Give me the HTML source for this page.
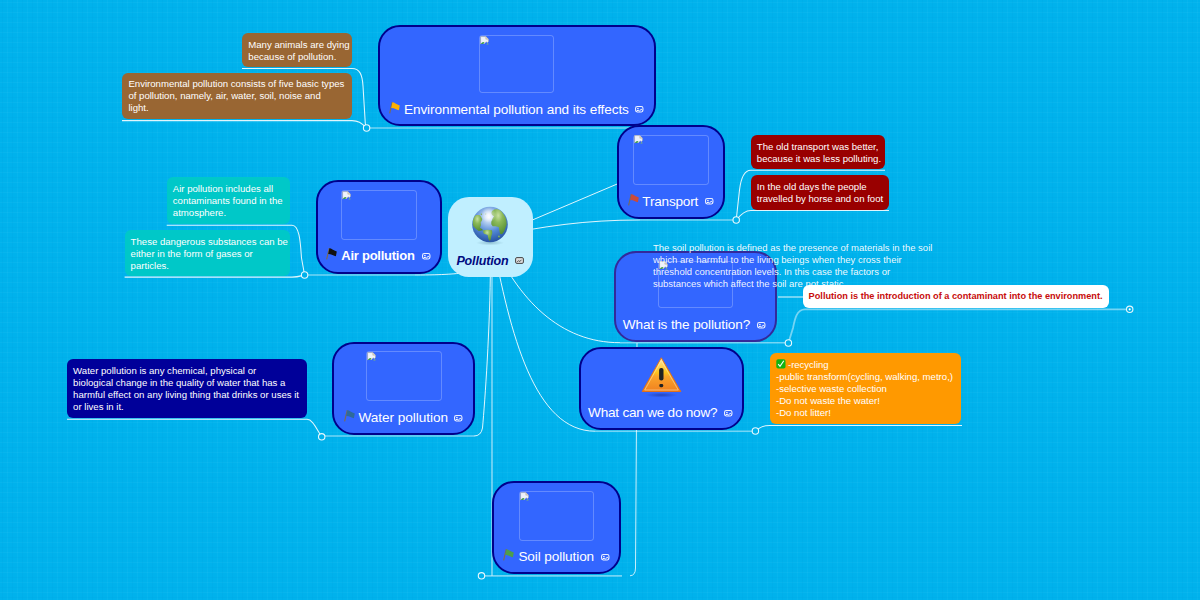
<!DOCTYPE html>
<html><head><meta charset="utf-8"><title>Pollution</title>
<style>
html,body{margin:0;padding:0;width:1200px;height:600px;overflow:hidden}
body{position:relative;font-family:"Liberation Sans", sans-serif;background-color:#00b2ec;
background-image:linear-gradient(90deg,rgba(140,235,255,.05) 1px,transparent 1px),linear-gradient(0deg,rgba(140,235,255,.05) 1px,transparent 1px),linear-gradient(90deg,rgba(0,80,160,.035) 1px,transparent 1px),linear-gradient(0deg,rgba(0,80,160,.035) 1px,transparent 1px);
background-size:10px 10px,10px 10px,10px 10px,10px 10px;background-position:7px 3px,7px 3px,2px 8px,2px 8px}
.t{position:absolute;white-space:pre;}
.b,.n,.ph,.ic,.bi,.lines{position:absolute;box-sizing:border-box}
.lines{left:0;top:0}
.ph{border:1px solid rgba(255,255,255,.24);border-radius:3px}
</style></head><body>
<svg class="lines" width="1200" height="600" viewBox="0 0 1200 600"><path d="M490 238 L636 176 Q662 150 640 128 H628" fill="none" stroke="rgba(255,255,255,0.88)" stroke-width="1"/><path d="M366.6 128 H628" fill="none" stroke="rgba(255,255,255,0.45)" stroke-width="1.6"/><path d="M490 237 C545 226 585 220 640 220" fill="none" stroke="rgba(255,255,255,0.88)" stroke-width="1"/><path d="M640 220 H736.2" fill="none" stroke="rgba(255,255,255,0.45)" stroke-width="1.6"/><path d="M470 272.3 C455 273.8 445 275 415 275" fill="none" stroke="rgba(255,255,255,0.88)" stroke-width="1"/><path d="M415 275 H304.6" fill="none" stroke="rgba(255,255,255,0.45)" stroke-width="1.6"/><path d="M490.5 262 C490 330 485 400 482.5 428 Q481 436 474 436" fill="none" stroke="rgba(255,255,255,0.88)" stroke-width="1"/><path d="M474 436 H321.7" fill="none" stroke="rgba(255,255,255,0.45)" stroke-width="1.6"/><path d="M492 262 V575.8" fill="none" stroke="rgba(255,255,255,0.45)" stroke-width="1.8"/><path d="M481.5 575.8 H622" fill="none" stroke="rgba(255,255,255,0.45)" stroke-width="1.8"/><path d="M637 343 L635.5 568 Q635.5 575.5 630 575.8" fill="none" stroke="rgba(255,255,255,0.88)" stroke-width="0.9"/><path d="M492 237 C510 335 535 431.2 595 431.2" fill="none" stroke="rgba(255,255,255,0.88)" stroke-width="1"/><path d="M595 431.2 H755.4" fill="none" stroke="rgba(255,255,255,0.45)" stroke-width="1.6"/><path d="M490 237 C518 300 560 342.7 620 342.7" fill="none" stroke="rgba(255,255,255,0.88)" stroke-width="1"/><path d="M620 342.7 H788.4" fill="none" stroke="rgba(255,255,255,0.45)" stroke-width="1.6"/><path d="M242 68.5 H352 C360 68.5 362.3 75 363 86 L365.3 123.5 Q365.8 126.5 366.6 128" fill="none" stroke="rgba(255,255,255,0.88)" stroke-width="1.05"/><path d="M122 120.6 H352 C358 120.6 361 122.5 366.6 128" fill="none" stroke="rgba(255,255,255,0.88)" stroke-width="1.05"/><path d="M166.7 225.2 H292 C300 225.2 300.5 245 301.5 258 L304.6 275" fill="none" stroke="rgba(255,255,255,0.88)" stroke-width="1.05"/><path d="M124.6 277.1 H292 C298 277.1 300.5 276 304.6 275" fill="none" stroke="rgba(255,255,255,0.88)" stroke-width="1.05"/><path d="M885 170.3 H750.8 C744 170.3 741 178 739.5 190 L736.2 220" fill="none" stroke="rgba(255,255,255,0.88)" stroke-width="1.05"/><path d="M889 210.5 H750.8 C745 210.5 741 214 736.2 220" fill="none" stroke="rgba(255,255,255,0.88)" stroke-width="1.05"/><path d="M67 419.3 H307 C312 419.3 315 426 321.7 436.8" fill="none" stroke="rgba(255,255,255,0.88)" stroke-width="1.05"/><path d="M962 425.4 H770 C763 425.4 760 427.5 755.4 431" fill="none" stroke="rgba(255,255,255,0.88)" stroke-width="1.05"/><path d="M1126 309.3 H805 C797 309.3 795 318 793 328 L788.4 343" fill="none" stroke="rgba(255,255,255,0.45)" stroke-width="1.8"/><path d="M778 297 H803" fill="none" stroke="rgba(255,255,255,0.45)" stroke-width="2"/><circle cx="366.6" cy="128" r="3.2" fill="#00b2ec" stroke="#fff" stroke-width="1.1" stroke-opacity=".9"/><circle cx="304.6" cy="275" r="3.2" fill="#00b2ec" stroke="#fff" stroke-width="1.1" stroke-opacity=".9"/><circle cx="736.2" cy="220" r="3.2" fill="#00b2ec" stroke="#fff" stroke-width="1.1" stroke-opacity=".9"/><circle cx="788.4" cy="343" r="3.2" fill="#00b2ec" stroke="#fff" stroke-width="1.1" stroke-opacity=".9"/><circle cx="755.4" cy="431" r="3.2" fill="#00b2ec" stroke="#fff" stroke-width="1.1" stroke-opacity=".9"/><circle cx="321.7" cy="436.8" r="3.2" fill="#00b2ec" stroke="#fff" stroke-width="1.1" stroke-opacity=".9"/><circle cx="481.5" cy="575.8" r="3.2" fill="#00b2ec" stroke="#fff" stroke-width="1.1" stroke-opacity=".9"/><circle cx="1129.7" cy="309.3" r="3.2" fill="#00b2ec" stroke="#fff" stroke-width="1.1" stroke-opacity=".9"/><circle cx="1129.7" cy="309.3" r="1.1" fill="#fff"/></svg>
<div class="n" style="left:377.5px;top:25.2px;width:278.70000000000005px;height:100.89999999999999px;background:#3366ff;border:2px solid #00008b;border-radius:22px"></div>
<div class="ph" style="left:479.3px;top:35.3px;width:74.49999999999994px;height:57.400000000000006px"></div>
<svg class="bi" style="left:480.1px;top:35.9px" width="9" height="9" viewBox="0 0 9 9"><path d="M.6 .6h5.2l2.6 2.6v2.4l-1.1 1.1-1-1-2.2 2.2-1.3-1.3L.6 7.9z" fill="#eef2fb" stroke="#b8b0a0" stroke-width=".55"/><path d="M5.8 .6v2.6h2.6" fill="#d8d0c0" stroke="#b8b0a0" stroke-width=".5"/><path d="M.8 7.8Q2.6 5.6 4.6 6.1L3 7.9z" fill="#3aa63a"/><path d="M6.2 8.4l1.6-1.5.6.6v.9z" fill="#7ab87a"/></svg>
<svg class="ic" style="left:388px;top:100.5px" width="13" height="13" viewBox="0 0 13 13"><path d="M4.3 1.1L1.6 12.3" stroke="#7a6a5a" stroke-width="1.2" fill="none"/><path d="M4.4 1.2C6.2 1.1 8.2 3.4 11.8 4.6L10.9 9.2C8.6 9.2 6.6 7 3.2 7.1z" fill="#ffb000"/></svg>
<div class="t" style="left:404.00px;top:100.89px;font-size:13.6px;line-height:17.0px;color:#fff;font-weight:normal;font-style:normal;letter-spacing:-0.1px;">Environmental pollution and its effects</div>
<svg class="ic" style="left:635.2px;top:105.8px" width="9" height="7" viewBox="0 0 9 7"><rect x=".55" y=".55" width="7.4" height="5.4" rx="1.6" fill="none" stroke="#fff" stroke-width="1.05" opacity=".9"/><circle cx="2.9" cy="2.5" r=".8" fill="#fff"/><path d="M1.2 5.3L3.1 4.1 4.4 5 6.2 3.3 7.6 4.4" fill="none" stroke="#fff" stroke-width="1"/></svg>
<div class="n" style="left:617px;top:125.2px;width:108px;height:93.8px;background:#3366ff;border:2px solid #00008b;border-radius:22px"></div>
<div class="ph" style="left:633px;top:134.6px;width:76px;height:50.400000000000006px"></div>
<svg class="bi" style="left:633.8px;top:135.2px" width="9" height="9" viewBox="0 0 9 9"><path d="M.6 .6h5.2l2.6 2.6v2.4l-1.1 1.1-1-1-2.2 2.2-1.3-1.3L.6 7.9z" fill="#eef2fb" stroke="#b8b0a0" stroke-width=".55"/><path d="M5.8 .6v2.6h2.6" fill="#d8d0c0" stroke="#b8b0a0" stroke-width=".5"/><path d="M.8 7.8Q2.6 5.6 4.6 6.1L3 7.9z" fill="#3aa63a"/><path d="M6.2 8.4l1.6-1.5.6.6v.9z" fill="#7ab87a"/></svg>
<svg class="ic" style="left:626.6px;top:192.8px" width="13" height="13" viewBox="0 0 13 13"><path d="M4.3 1.1L1.6 12.3" stroke="#7a6a5a" stroke-width="1.2" fill="none"/><path d="M4.4 1.2C6.2 1.1 8.2 3.4 11.8 4.6L10.9 9.2C8.6 9.2 6.6 7 3.2 7.1z" fill="#cc4a3a"/></svg>
<div class="t" style="left:642.30px;top:192.89px;font-size:13.6px;line-height:17.0px;color:#fff;font-weight:normal;font-style:normal;letter-spacing:-0.21px;">Transport</div>
<svg class="ic" style="left:705px;top:198.2px" width="9" height="7" viewBox="0 0 9 7"><rect x=".55" y=".55" width="7.4" height="5.4" rx="1.6" fill="none" stroke="#fff" stroke-width="1.05" opacity=".9"/><circle cx="2.9" cy="2.5" r=".8" fill="#fff"/><path d="M1.2 5.3L3.1 4.1 4.4 5 6.2 3.3 7.6 4.4" fill="none" stroke="#fff" stroke-width="1"/></svg>
<div class="n" style="left:315.6px;top:179.8px;width:126.59999999999997px;height:94.0px;background:#3366ff;border:2px solid #00008b;border-radius:22px"></div>
<div class="ph" style="left:341px;top:190px;width:76px;height:49.599999999999994px"></div>
<svg class="bi" style="left:341.8px;top:190.6px" width="9" height="9" viewBox="0 0 9 9"><path d="M.6 .6h5.2l2.6 2.6v2.4l-1.1 1.1-1-1-2.2 2.2-1.3-1.3L.6 7.9z" fill="#eef2fb" stroke="#b8b0a0" stroke-width=".55"/><path d="M5.8 .6v2.6h2.6" fill="#d8d0c0" stroke="#b8b0a0" stroke-width=".5"/><path d="M.8 7.8Q2.6 5.6 4.6 6.1L3 7.9z" fill="#3aa63a"/><path d="M6.2 8.4l1.6-1.5.6.6v.9z" fill="#7ab87a"/></svg>
<svg class="ic" style="left:325.3px;top:247.2px" width="13" height="13" viewBox="0 0 13 13"><path d="M4.3 1.1L1.6 12.3" stroke="#7a6a5a" stroke-width="1.2" fill="none"/><path d="M4.4 1.2C6.2 1.1 8.2 3.4 11.8 4.6L10.9 9.2C8.6 9.2 6.6 7 3.2 7.1z" fill="#111"/></svg>
<div class="t" style="left:341.30px;top:247.67px;font-size:13px;line-height:16.25px;color:#fff;font-weight:bold;font-style:normal;letter-spacing:-0.25px;">Air pollution</div>
<svg class="ic" style="left:422px;top:253px" width="9" height="7" viewBox="0 0 9 7"><rect x=".55" y=".55" width="7.4" height="5.4" rx="1.6" fill="none" stroke="#fff" stroke-width="1.05" opacity=".9"/><circle cx="2.9" cy="2.5" r=".8" fill="#fff"/><path d="M1.2 5.3L3.1 4.1 4.4 5 6.2 3.3 7.6 4.4" fill="none" stroke="#fff" stroke-width="1"/></svg>
<div class="n" style="left:332.4px;top:341.6px;width:142.60000000000002px;height:93.39999999999998px;background:#3366ff;border:2px solid #00008b;border-radius:22px"></div>
<div class="ph" style="left:366px;top:351px;width:76px;height:50.39999999999998px"></div>
<svg class="bi" style="left:366.8px;top:351.6px" width="9" height="9" viewBox="0 0 9 9"><path d="M.6 .6h5.2l2.6 2.6v2.4l-1.1 1.1-1-1-2.2 2.2-1.3-1.3L.6 7.9z" fill="#eef2fb" stroke="#b8b0a0" stroke-width=".55"/><path d="M5.8 .6v2.6h2.6" fill="#d8d0c0" stroke="#b8b0a0" stroke-width=".5"/><path d="M.8 7.8Q2.6 5.6 4.6 6.1L3 7.9z" fill="#3aa63a"/><path d="M6.2 8.4l1.6-1.5.6.6v.9z" fill="#7ab87a"/></svg>
<svg class="ic" style="left:342.6px;top:409.2px" width="13" height="13" viewBox="0 0 13 13"><path d="M4.3 1.1L1.6 12.3" stroke="#7a6a5a" stroke-width="1.2" fill="none"/><path d="M4.4 1.2C6.2 1.1 8.2 3.4 11.8 4.6L10.9 9.2C8.6 9.2 6.6 7 3.2 7.1z" fill="#2e6a9a"/></svg>
<div class="t" style="left:358.40px;top:409.19px;font-size:13.6px;line-height:17.0px;color:#fff;font-weight:normal;font-style:normal;letter-spacing:-0.03px;">Water pollution</div>
<svg class="ic" style="left:454.2px;top:415px" width="9" height="7" viewBox="0 0 9 7"><rect x=".55" y=".55" width="7.4" height="5.4" rx="1.6" fill="none" stroke="#fff" stroke-width="1.05" opacity=".9"/><circle cx="2.9" cy="2.5" r=".8" fill="#fff"/><path d="M1.2 5.3L3.1 4.1 4.4 5 6.2 3.3 7.6 4.4" fill="none" stroke="#fff" stroke-width="1"/></svg>
<div class="n" style="left:492px;top:481px;width:129.39999999999998px;height:93.39999999999998px;background:#3366ff;border:2px solid #00008b;border-radius:22px"></div>
<div class="ph" style="left:519px;top:491px;width:75px;height:50px"></div>
<svg class="bi" style="left:519.8px;top:491.6px" width="9" height="9" viewBox="0 0 9 9"><path d="M.6 .6h5.2l2.6 2.6v2.4l-1.1 1.1-1-1-2.2 2.2-1.3-1.3L.6 7.9z" fill="#eef2fb" stroke="#b8b0a0" stroke-width=".55"/><path d="M5.8 .6v2.6h2.6" fill="#d8d0c0" stroke="#b8b0a0" stroke-width=".5"/><path d="M.8 7.8Q2.6 5.6 4.6 6.1L3 7.9z" fill="#3aa63a"/><path d="M6.2 8.4l1.6-1.5.6.6v.9z" fill="#7ab87a"/></svg>
<svg class="ic" style="left:502.4px;top:548.2px" width="13" height="13" viewBox="0 0 13 13"><path d="M4.3 1.1L1.6 12.3" stroke="#7a6a5a" stroke-width="1.2" fill="none"/><path d="M4.4 1.2C6.2 1.1 8.2 3.4 11.8 4.6L10.9 9.2C8.6 9.2 6.6 7 3.2 7.1z" fill="#4e9e4a"/></svg>
<div class="t" style="left:518.40px;top:547.69px;font-size:13.6px;line-height:17.0px;color:#fff;font-weight:normal;font-style:normal;letter-spacing:-0.1px;">Soil pollution</div>
<svg class="ic" style="left:600.8px;top:554px" width="9" height="7" viewBox="0 0 9 7"><rect x=".55" y=".55" width="7.4" height="5.4" rx="1.6" fill="none" stroke="#fff" stroke-width="1.05" opacity=".9"/><circle cx="2.9" cy="2.5" r=".8" fill="#fff"/><path d="M1.2 5.3L3.1 4.1 4.4 5 6.2 3.3 7.6 4.4" fill="none" stroke="#fff" stroke-width="1"/></svg>
<div class="n" style="left:613.7px;top:251px;width:163.79999999999995px;height:90.80000000000001px;background:#3366ff;border:2px solid #33299a;border-radius:22px"></div>
<div class="ph" style="left:658px;top:260.7px;width:75px;height:47.30000000000001px"></div>
<svg class="bi" style="left:658.8px;top:261.3px" width="9" height="9" viewBox="0 0 9 9"><path d="M.6 .6h5.2l2.6 2.6v2.4l-1.1 1.1-1-1-2.2 2.2-1.3-1.3L.6 7.9z" fill="#eef2fb" stroke="#b8b0a0" stroke-width=".55"/><path d="M5.8 .6v2.6h2.6" fill="#d8d0c0" stroke="#b8b0a0" stroke-width=".5"/><path d="M.8 7.8Q2.6 5.6 4.6 6.1L3 7.9z" fill="#3aa63a"/><path d="M6.2 8.4l1.6-1.5.6.6v.9z" fill="#7ab87a"/></svg>
<div class="t" style="left:622.80px;top:315.89px;font-size:13.6px;line-height:17.0px;color:#fff;font-weight:normal;font-style:normal;letter-spacing:-0.12px;">What is the pollution?</div>
<svg class="ic" style="left:756.8px;top:321.5px" width="9" height="7" viewBox="0 0 9 7"><rect x=".55" y=".55" width="7.4" height="5.4" rx="1.6" fill="none" stroke="#fff" stroke-width="1.05" opacity=".9"/><circle cx="2.9" cy="2.5" r=".8" fill="#fff"/><path d="M1.2 5.3L3.1 4.1 4.4 5 6.2 3.3 7.6 4.4" fill="none" stroke="#fff" stroke-width="1"/></svg>
<div class="n" style="left:578.6px;top:347.2px;width:165.39999999999998px;height:83.0px;background:#3366ff;border:2px solid #00008b;border-radius:22px"></div>
<div class="t" style="left:588.10px;top:403.99px;font-size:13.6px;line-height:17.0px;color:#fff;font-weight:normal;font-style:normal;letter-spacing:-0.24px;">What can we do now?</div>
<svg class="ic" style="left:724.2px;top:409.6px" width="9" height="7" viewBox="0 0 9 7"><rect x=".55" y=".55" width="7.4" height="5.4" rx="1.6" fill="none" stroke="#fff" stroke-width="1.05" opacity=".9"/><circle cx="2.9" cy="2.5" r=".8" fill="#fff"/><path d="M1.2 5.3L3.1 4.1 4.4 5 6.2 3.3 7.6 4.4" fill="none" stroke="#fff" stroke-width="1"/></svg>
<svg class="ic" style="left:640px;top:355.5px" width="44" height="42" viewBox="0 0 44 42"><defs><linearGradient id="wg" x1="0" y1="0" x2="0" y2="1"><stop offset="0" stop-color="#ffe9a0"/><stop offset=".45" stop-color="#ffc21a"/><stop offset=".55" stop-color="#fba52a"/><stop offset="1" stop-color="#f08020"/></linearGradient><radialGradient id="ws" cx=".5" cy=".5" r=".5"><stop offset="0" stop-color="#1a2a88" stop-opacity=".55"/><stop offset="1" stop-color="#1a2a88" stop-opacity="0"/></radialGradient></defs><ellipse cx="21.5" cy="39" rx="16" ry="2.5" fill="url(#ws)"/><path d="M21.3 1.8L40.8 35.5H2.2z" fill="url(#wg)" stroke="#e0701a" stroke-width="1" stroke-linejoin="round"/><path d="M21.3 4.5L38.3 34H4.7z" fill="none" stroke="#ffeec0" stroke-width=".7" opacity=".7"/><rect x="19.1" y="12" width="4.4" height="12.5" rx="2" fill="#222"/><rect x="19.3" y="28" width="4" height="3.2" rx="1.4" fill="#222"/></svg>
<div class="n" style="left:447.8px;top:197px;width:85.7px;height:79.8px;background:#c0efff;border-radius:21px"></div>
<svg class="ic" style="left:469px;top:204px" width="42" height="42" viewBox="0 0 42 42"><defs><radialGradient id="gb" cx=".47" cy=".3" r=".75"><stop offset="0" stop-color="#f4f8ff"/><stop offset=".22" stop-color="#b0ccef"/><stop offset=".55" stop-color="#5288d6"/><stop offset=".9" stop-color="#2a56a6"/><stop offset="1" stop-color="#3a68b8"/></radialGradient><radialGradient id="gl" cx=".45" cy=".25" r=".8"><stop offset="0" stop-color="#c8e0a0"/><stop offset=".35" stop-color="#8cba5a"/><stop offset="1" stop-color="#4f8a2e"/></radialGradient><radialGradient id="gsh" cx=".5" cy=".5" r=".5"><stop offset="0" stop-color="#4a7a90" stop-opacity=".4"/><stop offset="1" stop-color="#4a7a90" stop-opacity="0"/></radialGradient><radialGradient id="hl"><stop offset="0" stop-color="#fff" stop-opacity=".8"/><stop offset="1" stop-color="#fff" stop-opacity="0"/></radialGradient><clipPath id="gc"><circle cx="21" cy="20.5" r="17.6"/></clipPath></defs><ellipse cx="21" cy="38.8" rx="14" ry="2.6" fill="url(#gsh)"/><circle cx="21" cy="20.5" r="17.8" fill="url(#gb)"/><g clip-path="url(#gc)" fill="url(#gl)"><path d="M3.7 16.3L5 13 7 11 10.3 11 11.7 12.3 13.3 15 12.7 17 11.7 18.3 12 21 11 23.7 13 25 14 26.3 9.7 27 7 25 4.3 22.3 3.7 19.7z"/><path d="M14.3 26.3L18.3 25.7 23 26.3 23.3 29 22.3 32.3 21.7 35.7 20.3 37 19.3 34.3 18.7 31 15 29.7 14 27.7z"/><path d="M23 7L25.7 5.3 29 5.3 32.3 7 34.3 9.7 36.3 13 37.3 16.3 37.7 20.3 36.3 24.3 35 27.7 33 30.3 31 29.7 30.3 26.3 29.7 23 26.3 22.3 23.7 22.3 22.3 20.3 22.3 17.7 23.7 14.3 25 12.3 23 11 22.3 9z"/><path d="M29 31.7L30.5 31.5 31 33.5 29.5 33.7z"/><path d="M11.8 9.8L13 9.6 13 10.8 12 11z"/><path d="M15.8 9.8L17.2 9.5 17 10.8z"/></g><circle cx="19.7" cy="11" r="7.5" fill="url(#hl)"/></svg>
<div class="t" style="left:456.40px;top:254.06px;font-size:12.5px;line-height:15.625px;color:#000a80;font-weight:bold;font-style:italic;letter-spacing:-0.15px;">Pollution</div>
<svg class="ic" style="left:515px;top:257px" width="9" height="7" viewBox="0 0 9 7"><rect x=".6" y=".6" width="7.8" height="5.8" rx="1.3" fill="#ddd" stroke="#444" stroke-width="1"/><path d="M2 5.2l1.6-1.6 1.2 1 1.6-1.8" fill="none" stroke="#444" stroke-width=".9"/></svg>
<div class="b" style="left:242.3px;top:32.8px;width:109.69999999999999px;height:34.5px;background:#996633;border-radius:6px"></div>
<div class="t" style="left:248.30px;top:38.60px;font-size:9.6px;line-height:12px;color:#fff;font-weight:normal;font-style:normal;letter-spacing:0px;">Many animals are dying</div>
<div class="t" style="left:248.30px;top:50.60px;font-size:9.6px;line-height:12px;color:#fff;font-weight:normal;font-style:normal;letter-spacing:0px;">because of pollution.</div>
<div class="b" style="left:122.4px;top:72.6px;width:229.6px;height:46.5px;background:#996633;border-radius:6px"></div>
<div class="t" style="left:128.40px;top:78.40px;font-size:9.6px;line-height:12px;color:#fff;font-weight:normal;font-style:normal;letter-spacing:0px;">Environmental pollution consists of five basic types</div>
<div class="t" style="left:128.40px;top:90.40px;font-size:9.6px;line-height:12px;color:#fff;font-weight:normal;font-style:normal;letter-spacing:0px;">of pollution, namely, air, water, soil, noise and</div>
<div class="t" style="left:128.40px;top:102.40px;font-size:9.6px;line-height:12px;color:#fff;font-weight:normal;font-style:normal;letter-spacing:0px;">light.</div>
<div class="b" style="left:166.8px;top:177.3px;width:123.19999999999999px;height:46.5px;background:#00c8c8;border-radius:6px"></div>
<div class="t" style="left:172.80px;top:183.10px;font-size:9.6px;line-height:12px;color:#fff;font-weight:normal;font-style:normal;letter-spacing:0px;">Air pollution includes all</div>
<div class="t" style="left:172.80px;top:195.10px;font-size:9.6px;line-height:12px;color:#fff;font-weight:normal;font-style:normal;letter-spacing:0px;">contaminants found in the</div>
<div class="t" style="left:172.80px;top:207.10px;font-size:9.6px;line-height:12px;color:#fff;font-weight:normal;font-style:normal;letter-spacing:0px;">atmosphere.</div>
<div class="b" style="left:124.6px;top:229.8px;width:165.4px;height:46.5px;background:#00c8c8;border-radius:6px"></div>
<div class="t" style="left:130.60px;top:235.60px;font-size:9.6px;line-height:12px;color:#fff;font-weight:normal;font-style:normal;letter-spacing:0px;">These dangerous substances can be</div>
<div class="t" style="left:130.60px;top:247.60px;font-size:9.6px;line-height:12px;color:#fff;font-weight:normal;font-style:normal;letter-spacing:0px;">either in the form of gases or</div>
<div class="t" style="left:130.60px;top:259.60px;font-size:9.6px;line-height:12px;color:#fff;font-weight:normal;font-style:normal;letter-spacing:0px;">particles.</div>
<div class="b" style="left:750.8px;top:134.7px;width:133.9000000000001px;height:34.5px;background:#990000;border-radius:6px"></div>
<div class="t" style="left:756.80px;top:140.50px;font-size:9.6px;line-height:12px;color:#fff;font-weight:normal;font-style:normal;letter-spacing:0px;">The old transport was better,</div>
<div class="t" style="left:756.80px;top:152.50px;font-size:9.6px;line-height:12px;color:#fff;font-weight:normal;font-style:normal;letter-spacing:0px;">because it was less polluting.</div>
<div class="b" style="left:750.8px;top:175px;width:138.20000000000005px;height:34.5px;background:#990000;border-radius:6px"></div>
<div class="t" style="left:756.80px;top:180.80px;font-size:9.6px;line-height:12px;color:#fff;font-weight:normal;font-style:normal;letter-spacing:0px;">In the old days the people</div>
<div class="t" style="left:756.80px;top:192.80px;font-size:9.6px;line-height:12px;color:#fff;font-weight:normal;font-style:normal;letter-spacing:0px;">travelled by horse and on foot</div>
<div class="b" style="left:67.1px;top:359.3px;width:239.9px;height:58.5px;background:#000099;border-radius:6px"></div>
<div class="t" style="left:73.10px;top:365.10px;font-size:9.6px;line-height:12px;color:#fff;font-weight:normal;font-style:normal;letter-spacing:0px;">Water pollution is any chemical, physical or</div>
<div class="t" style="left:73.10px;top:377.10px;font-size:9.6px;line-height:12px;color:#fff;font-weight:normal;font-style:normal;letter-spacing:0px;">biological change in the quality of water that has a</div>
<div class="t" style="left:73.10px;top:389.10px;font-size:9.6px;line-height:12px;color:#fff;font-weight:normal;font-style:normal;letter-spacing:0px;">harmful effect on any living thing that drinks or uses it</div>
<div class="t" style="left:73.10px;top:401.10px;font-size:9.6px;line-height:12px;color:#fff;font-weight:normal;font-style:normal;letter-spacing:0px;">or lives in it.</div>
<div class="b" style="left:770px;top:353px;width:191px;height:70.5px;background:#ff9900;border-radius:6px"></div>
<div class="t" style="left:776.00px;top:358.80px;font-size:9.6px;line-height:12px;color:#fff;font-weight:normal;font-style:normal;letter-spacing:0px;"></div>
<div class="t" style="left:776.00px;top:370.80px;font-size:9.6px;line-height:12px;color:#fff;font-weight:normal;font-style:normal;letter-spacing:0px;">-public transform(cycling, walking, metro,)</div>
<div class="t" style="left:776.00px;top:382.80px;font-size:9.6px;line-height:12px;color:#fff;font-weight:normal;font-style:normal;letter-spacing:0px;">-selective waste collection</div>
<div class="t" style="left:776.00px;top:394.80px;font-size:9.6px;line-height:12px;color:#fff;font-weight:normal;font-style:normal;letter-spacing:0px;">-Do not waste the water!</div>
<div class="t" style="left:776.00px;top:406.80px;font-size:9.6px;line-height:12px;color:#fff;font-weight:normal;font-style:normal;letter-spacing:0px;">-Do not litter!</div>
<div class="t" style="left:788.00px;top:358.80px;font-size:9.5px;line-height:12px;color:#fff;font-weight:normal;font-style:normal;letter-spacing:0px;">-recycling</div>
<svg class="ic" style="left:775.5px;top:358.5px" width="10" height="10" viewBox="0 0 10 10"><rect x=".3" y=".3" width="9.2" height="9.2" rx="1.8" fill="#12b312"/><path d="M2.2 5.2L4 7.4 7.8 1.8" fill="none" stroke="#fff" stroke-width="1.1"/></svg>
<div class="t" style="left:653.00px;top:242.01px;font-size:9.5px;line-height:12px;color:rgba(255,255,255,0.95);font-weight:normal;font-style:normal;letter-spacing:0px;">The soil pollution is defined as the presence of materials in the soil</div>
<div class="t" style="left:653.00px;top:253.86px;font-size:9.5px;line-height:12px;color:rgba(255,255,255,0.95);font-weight:normal;font-style:normal;letter-spacing:0px;">which are harmful to the living beings when they cross their</div>
<div class="t" style="left:653.00px;top:265.71px;font-size:9.5px;line-height:12px;color:rgba(255,255,255,0.95);font-weight:normal;font-style:normal;letter-spacing:0px;">threshold concentration levels. In this case the factors or</div>
<div class="t" style="left:653.00px;top:277.56px;font-size:9.5px;line-height:12px;color:rgba(255,255,255,0.95);font-weight:normal;font-style:normal;letter-spacing:0px;">substances which affect the soil are not static.</div>
<div class="b" style="left:802.8px;top:285px;width:306px;height:22.6px;background:#fff;border-radius:6px"></div>
<div class="t" style="left:808.60px;top:290.01px;font-size:9.2px;line-height:12px;color:#c80c0c;font-weight:bold;font-style:normal;letter-spacing:0px;">Pollution is the introduction of a contaminant into the environment.</div>
</body></html>
